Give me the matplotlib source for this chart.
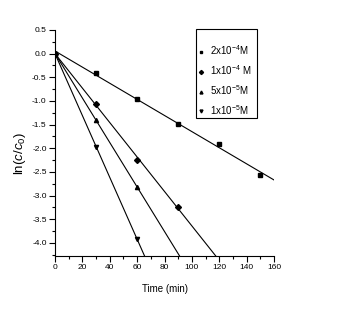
import numpy as np
import matplotlib
matplotlib.use("Agg")
import matplotlib.pyplot as plt
from matplotlib.patches import Rectangle
from matplotlib.ticker import MultipleLocator

plt.rcParams["font.family"] = ["Liberation Sans", "DejaVu Sans"]
plt.rcParams["mathtext.fontset"] = "custom"
plt.rcParams["mathtext.rm"] = "Liberation Sans"
plt.rcParams["mathtext.it"] = "Liberation Sans:italic"

# Datos
t_a = [0, 30, 60, 90, 120, 150]
y_a = [0.0, -0.42, -0.95, -1.48, -1.92, -2.57]
t_b = [0, 30, 60, 90]
y_b = [0.0, -1.07, -2.24, -3.25]
t_c = [0, 30, 60]
y_c = [0.0, -1.41, -2.82]
t_d = [0, 30, 60]
y_d = [0.0, -1.97, -3.92]

labels = [r"2x10$^{-4}$M", r"1x10$^{-4}$ M", r"5x10$^{-5}$M", r"1x10$^{-5}$M"]
markers = ["s", "D", "^", "v"]
series = [(t_a, y_a), (t_b, y_b), (t_c, y_c), (t_d, y_d)]

fig = plt.figure(figsize=(3.55, 3.36), dpi=100)
ax = fig.add_axes([0.155, 0.239, 0.617, 0.672])

xx = np.array([0, 160])
for (t, y), lab, m in zip(series, labels, markers):
    k = np.polyfit(t, y, 1)
    ax.plot(xx, np.polyval(k, xx), color="black", lw=0.8)
    ax.plot(t, y, linestyle="none", marker=m, color="black", ms=3, label=lab)

ax.set_xlim(0, 160)
ax.set_ylim(-4.27, 0.5)
ax.xaxis.set_major_locator(MultipleLocator(20))
ax.xaxis.set_minor_locator(MultipleLocator(10))
ax.yaxis.set_major_locator(MultipleLocator(0.5))
ax.yaxis.set_minor_locator(MultipleLocator(0.25))
ax.spines["top"].set_visible(False)
ax.spines["right"].set_visible(False)
ax.tick_params(which="major", length=4, width=0.8, labelsize=6, pad=2)
ax.tick_params(which="minor", length=2, width=0.8)
ax.yaxis.set_major_formatter(plt.FuncFormatter(lambda v, p: f"{v:.1f}"))

ax.set_xlabel("Time (min)", fontsize=7, labelpad=9)
ax.set_ylabel(r"ln($c$/$c_0$)", fontsize=9.5)
ax.yaxis.set_label_coords(-0.125, 0.45)

# recuadro de la leyenda
ax.add_patch(Rectangle((0.644, 0.61), 0.278, 0.393, transform=ax.transAxes,
                       facecolor="white", edgecolor="black", lw=0.8,
                       clip_on=False, zorder=4))
leg = ax.legend(loc="upper left", bbox_to_anchor=(0.655, 0.94), fontsize=7,
                frameon=False, handlelength=0.6, handletextpad=0.6,
                markerscale=0.7, labelspacing=0.62, borderpad=0,
                borderaxespad=0)
leg.set_zorder(5)

plt.savefig("out.png", dpi=100)
